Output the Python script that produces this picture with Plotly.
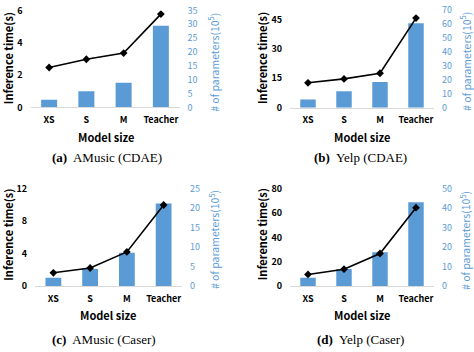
import plotly.graph_objects as go

W, H = 474, 352
categories = ["XS", "S", "M", "Teacher"]

time_a = [2.47, 2.98, 3.36, 5.77]
params_a = [2.8, 5.8, 8.9, 29.5]
time_b = [12.7, 14.7, 17.6, 45.8]
params_b = [5.9, 11.7, 18.4, 60.4]
time_c = [1.66, 2.25, 4.23, 10.0]
params_c = [2.2, 4.4, 8.6, 21.2]
time_d = [9.7, 14.0, 26.9, 64.5]
params_d = [4.4, 8.9, 17.4, 43.1]

captions = ["(a)", "(b)", "(c)", "(d)"]
caption_names = ["AMusic (CDAE)", "Yelp (CDAE)", "AMusic (Caser)", "Yelp (Caser)"]

left_ticks = [[0, 2, 4, 6], [0, 15, 30, 45], [0, 4, 8, 12], [0, 20, 40, 60, 80]]
left_ranges = [[0, 6], [0, 50], [0, 12], [0, 80]]
right_ticks = [list(range(0, 36, 5)), list(range(0, 71, 10)), list(range(0, 26, 5)), list(range(0, 51, 10))]
right_ranges = [[0, 35], [0, 70], [0, 25], [0, 50]]

BLUE = "#5B9BD5"
FONT = "Noto Sans CJK KR"

# pixel geometry of each panel: (x0, x1, y_bottom, y_top)
panels = [(30.5, 179.5, 104.3, 3.5), (290, 434, 104.5, 3.0),
          (35, 182, 290, 188.7), (290, 434, 290, 188.7)]

times = [time_a, time_b, time_c, time_d]
params = [params_a, params_b, params_c, params_d]

fig = go.Figure()
layout = {}
for i in range(4):
    x0, x1, yb, yt = panels[i]
    xd = [x0 / W, x1 / W]
    yd = [1 - yb / H, 1 - yt / H]
    xn = "x" if i == 0 else f"x{i+1}"
    yr = f"y{2*i+1}" if i else "y"
    yl = f"y{2*i+2}"
    fig.add_trace(go.Bar(x=categories, y=params[i], xaxis=xn, yaxis=yr,
                         marker=dict(color=BLUE, line=dict(width=0)), width=0.43,
                         showlegend=False))
    fig.add_trace(go.Scatter(x=categories, y=times[i], xaxis=xn, yaxis=yl, mode="lines+markers",
                             line=dict(color="black", width=1.6),
                             marker=dict(symbol="diamond", size=6, color="black"),
                             showlegend=False))
    xkey = "xaxis" if i == 0 else f"xaxis{i+1}"
    yrkey = "yaxis" if i == 0 else f"yaxis{2*i+1}"
    ylkey = f"yaxis{2*i+2}"
    layout[xkey] = dict(domain=xd, anchor=yr, showgrid=False, showline=True, linecolor="#D9D9D9",
                        linewidth=1, ticks="", ticklabelstandoff=4,
                        tickfont=dict(family=FONT, size=9, color="black", weight="bold"),
                        fixedrange=True)
    layout[yrkey] = dict(domain=yd, anchor=xn, side="right", range=right_ranges[i],
                         tickvals=right_ticks[i], showgrid=False, zeroline=False, showline=False,
                         ticks="", ticklabelstandoff=7,
                         tickfont=dict(family=FONT, size=9, color=BLUE))
    layout[ylkey] = dict(domain=yd, anchor=xn, overlaying=yr, side="left", range=left_ranges[i],
                         tickvals=left_ticks[i], showgrid=False, zeroline=False, showline=False,
                         ticks="", ticklabelstandoff=7,
                         tickfont=dict(family=FONT, size=9, color="black", weight="bold"))

fig.update_layout(**layout)

ann = []
def px(x, y):
    return x / W, 1 - y / H

# axis titles and captions
left_title_pos = [(7.7, 53.5), (262, 53), (8, 236.5), (262, 236)]
right_title_pos = [(213, 58), (465, 57), (214, 242), (465, 243)]
model_pos = [(106, 135), (362, 135), (108, 320), (362, 320)]
caption_pos = [(107, 156), (360, 156), (104, 345), (360, 345)]
for i in range(4):
    x, y = px(*left_title_pos[i])
    ann.append(dict(x=x, y=y, xref="paper", yref="paper", text="<b>Inference time(s)</b>", textangle=-90,
                    showarrow=False, font=dict(family=FONT, size=11, color="black"),
                    xanchor="center", yanchor="middle"))
    x, y = px(*right_title_pos[i])
    ann.append(dict(x=x, y=y, xref="paper", yref="paper", text="# of parameters(10<sup>5</sup>)",
                    textangle=-90, showarrow=False, font=dict(family=FONT, size=10.5, color=BLUE),
                    xanchor="center", yanchor="middle"))
    x, y = px(*model_pos[i])
    ann.append(dict(x=x, y=y, xref="paper", yref="paper", text="<b>Model size</b>", showarrow=False,
                    font=dict(family=FONT, size=11, color="black"), xanchor="center", yanchor="middle"))
    x, y = px(*caption_pos[i])
    ann.append(dict(x=x, y=y, xref="paper", yref="paper",
                    text=f"<b>{captions[i]}</b>  {caption_names[i]}", showarrow=False,
                    font=dict(family="Liberation Serif", size=13, color="black"),
                    xanchor="center", yanchor="middle"))

fig.update_layout(width=W, height=H, margin=dict(l=0, r=0, t=0, b=0), paper_bgcolor="white",
                  plot_bgcolor="white", annotations=ann, bargap=0.5)
fig.write_html("out.html")
